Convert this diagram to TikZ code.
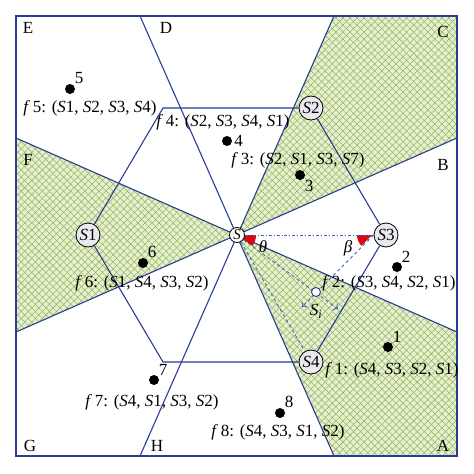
\documentclass[tikz,border=0pt]{standalone}
\usepackage{fontspec}
\setmainfont{Liberation Serif}
\usetikzlibrary{patterns.meta,arrows.meta,positioning}

\definecolor{navy}{RGB}{42,60,150}
\definecolor{dashblue}{RGB}{60,100,190}
\definecolor{hatchbg}{RGB}{230,240,205}
\definecolor{hatchln}{RGB}{150,180,100}
\definecolor{nodegray}{RGB}{232,234,240}
\definecolor{wedgered}{RGB}{215,10,20}

\newcommand{\sn}[1]{\textit{S}#1}

\begin{document}
\begin{tikzpicture}[x=1pt, y=-1pt, font=\fontsize{17}{20}\selectfont,
  wall/.style = {draw=navy, line width=1.1pt},
  hatched/.style = {fill=hatchbg,
    postaction={pattern={Lines[angle=45,distance=5pt,line width=.55pt]}, pattern color=hatchln},
    postaction={pattern={Lines[angle=-45,distance=5pt,line width=.55pt]}, pattern color=hatchln}},
  sensor/.style = {draw, circle, fill=nodegray, minimum size=24pt, inner sep=0pt, line width=.8pt},
  blob/.style = {circle, fill=black, minimum size=10pt, inner sep=0pt},
  guide/.style = {draw=dashblue, dashed, line width=.9pt}]
	\useasboundingbox (0,0) rectangle (474,474);
	\coordinate (O) at (237,235);
	
	% shaded sectors
	\path[hatched] (O) -- (334,16) -- (457,16) -- (457,138) -- cycle;
	\path[hatched] (O) -- (16,138) -- (16,332) -- cycle;
	\path[hatched] (O) -- (457,332) -- (457,456) -- (334,456) -- cycle;
	
	\draw[wall] (16,16) rectangle (457,456);
	\draw[wall] (140,16) -- (334,456) (334,16) -- (140,456) (16,138) -- (457,332) (16,332) -- (457,138);
	
	% angle marks
	\fill[wedgered] (O) -- ++(0:19) arc[start angle=0, end angle=35, radius=19] -- cycle;
	\fill[wedgered] (372,235) -- ++(180:15) arc[start angle=180, end angle=134, radius=15] -- cycle;
	
	\node[sensor] (S1) at (88,235) {\sn1};
	\node[sensor] (S2) at (311,108) {\sn2};
	\node[sensor] (S3) at (386,235) {\sn3};
	\node[sensor] (S4) at (311,362) {\sn4};
	\node[draw, circle, fill=white, minimum size=15pt, inner sep=0pt, line width=.8pt, font=\fontsize{15}{18}\selectfont] (S) at (O) {\textit{S}};
	\coordinate (h1) at (163,108);
	\coordinate (h2) at (163,362);
	\draw[wall] (S1) -- (h1) -- (S2) -- (S3) -- (S4) -- (h2) -- (S1);
	
	\coordinate (tR) at (338,309);
	\coordinate (tL) at (302,307);
	\draw[guide, dash dot] (S) -- (S3);
	\draw[guide] (S) -- (S4);
	\draw[guide, -{To[length=4pt]}] (S) -- (tR);
	\draw[guide, -{To[length=4pt]}] (S3.west) -- (tL);
	\node[draw=navy, circle, fill=white, minimum size=9pt, inner sep=0pt, line width=.9pt] (Si) at (316,292) {};
	\node[below=4pt of Si] (si) {\textit{S}\textsubscript{\textit{i}}};
	\node at (263,247) {\textit{θ}};
	\node at (348,248) {\textit{β}};
	
	% targets
	\node[blob, label={[inner sep=1pt]north east:1}] (d1) at (388,347) {};
	\node[blob, label={[inner sep=1pt]north east:2}] (d2) at (397,267) {};
	\node[blob, label={[inner sep=1pt]south east:3}] (d3) at (300,175) {};
	\node[blob, label={[inner sep=2pt]east:4}] (d4) at (227,141) {};
	\node[blob, label={[inner sep=1pt]north east:5}] (d5) at (70,89) {};
	\node[blob, label={[inner sep=1pt]north east:6}] (d6) at (143,263) {};
	\node[blob, label={[inner sep=1pt]north east:7}] (d7) at (154,380) {};
	\node[blob, label={[inner sep=1pt]north east:8}] (d8) at (280,413) {};
	
	\node (f1) at (392,370) {\textit{f}\,1: (\sn4, \sn3, \sn2, \sn1)};
	\node (f2) at (389,283) {\textit{f}\,2: (\sn3, \sn4, \sn2, \sn1)};
	\node (f3) at (298,160) {\textit{f}\,3: (\sn2, \sn1, \sn3, \sn7)};
	\node (f4) at (223,122) {\textit{f}\,4: (\sn2, \sn3, \sn4, \sn1)};
	\node (f5) at (90,108) {\textit{f}\,5: (\sn1, \sn2, \sn3, \sn4)};
	\node (f6) at (142,283) {\textit{f}\,6: (\sn1, \sn4, \sn3, \sn2)};
	\node (f7) at (152,402) {\textit{f}\,7: (\sn4, \sn1, \sn3, \sn2)};
	\node (f8) at (278,432) {\textit{f}\,8: (\sn4, \sn3, \sn1, \sn2)};
	
	% region letters
	\node (A) at (443,446) {A};
	\node (B) at (443,165) {B};
	\node (C) at (443,32) {C};
	\node (D) at (166,28) {D};
	\node (E) at (28,28) {E};
	\node (F) at (28,160) {F};
	\node (G) at (30,446) {G};
	\node (H) at (157,446) {H};
\end{tikzpicture}
\end{document}
